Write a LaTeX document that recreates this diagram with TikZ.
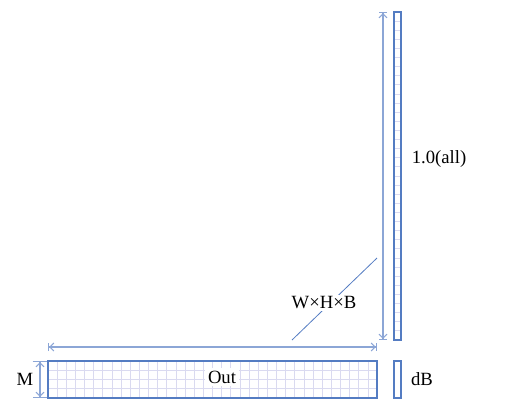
\documentclass[tikz,border=0pt]{standalone}
\usepackage{fontspec}
\setmainfont{Liberation Serif}
\usetikzlibrary{arrows.meta}
\definecolor{boxblue}{RGB}{84,124,194}
\definecolor{dimblue}{RGB}{140,166,214}
\definecolor{gridlav}{RGB}{218,218,240}
\begin{document}
\begin{tikzpicture}[x = .75pt, y = -.75pt, font = \fontsize{14}{17}\selectfont,
  cell/.style = {draw = gridlav, line width = .6pt},
  frame/.style = {draw = boxblue, line width = .8pt},
  dim/.style = {draw = dimblue, line width = .8pt,
    {Bar[width = 6pt]Straight Barb[length = 3pt, width = 6pt]}-{Straight Barb[length = 3pt, width = 6pt]Bar[width = 6pt]}},
  mdim/.style = {draw = dimblue, line width = .8pt,
    {Bar[width = 11pt]Straight Barb[length = 3pt, width = 6pt]}-{Straight Barb[length = 3pt, width = 6pt]Bar[width = 11pt]}}]
  \path[use as bounding box] (0, 0) rectangle (505, 412);
  % output map
  \foreach \i in {1, ..., 35}
    \draw[cell] (48 + \i*9.14, 361) -- ++(0, 37);
  \foreach \j in {1, 2, 3}
    \draw[cell] (48, 361 + \j*9.25) -- ++(329, 0);
  \draw[frame] (48, 361) coordinate (out-nw) rectangle (377, 398)
  coordinate (out-se);
  % tall column
  \foreach \j in {1, ..., 35}
    \draw[cell] (394, 12 + \j*9.11) -- ++(7, 0);
  \draw[frame] (394, 12) coordinate (col-n) rectangle (401, 340)
  coordinate (col-s);
  \draw[frame] (394, 361) coordinate (db-n) rectangle (401, 398)
  coordinate (db-s);
  % dimensions
  \coordinate (w-l) at (48, 347);
  \coordinate (w-r) at (377, 347);
  \draw[dim] (w-l) -- (w-r);
  \coordinate (h-t) at (383, 12);
  \coordinate (h-b) at (383, 340);
  \draw[dim] (h-t) -- (h-b);
  \coordinate (m-t) at (40, 361);
  \coordinate (m-b) at (40, 398);
  \draw[mdim] (m-t) -- (m-b);
  \coordinate (diag-a) at (292, 340);
  \coordinate (diag-b) at (377, 258);
  \draw[draw = boxblue, line width = .6pt] (diag-a) -- (diag-b);
  % labels
  \node (whb) [fill = white, inner sep = 1pt] at (324, 303) {W×H×B};
  \node (out) [fill = white, inner sep = 2pt] at (222, 377) {Out};
  \node (m) at (25, 379) {M};
  \node (db) at (422, 379) {dB};
  \node (all) at (439, 159) {1.0(all)};
\end{tikzpicture}
\end{document}
